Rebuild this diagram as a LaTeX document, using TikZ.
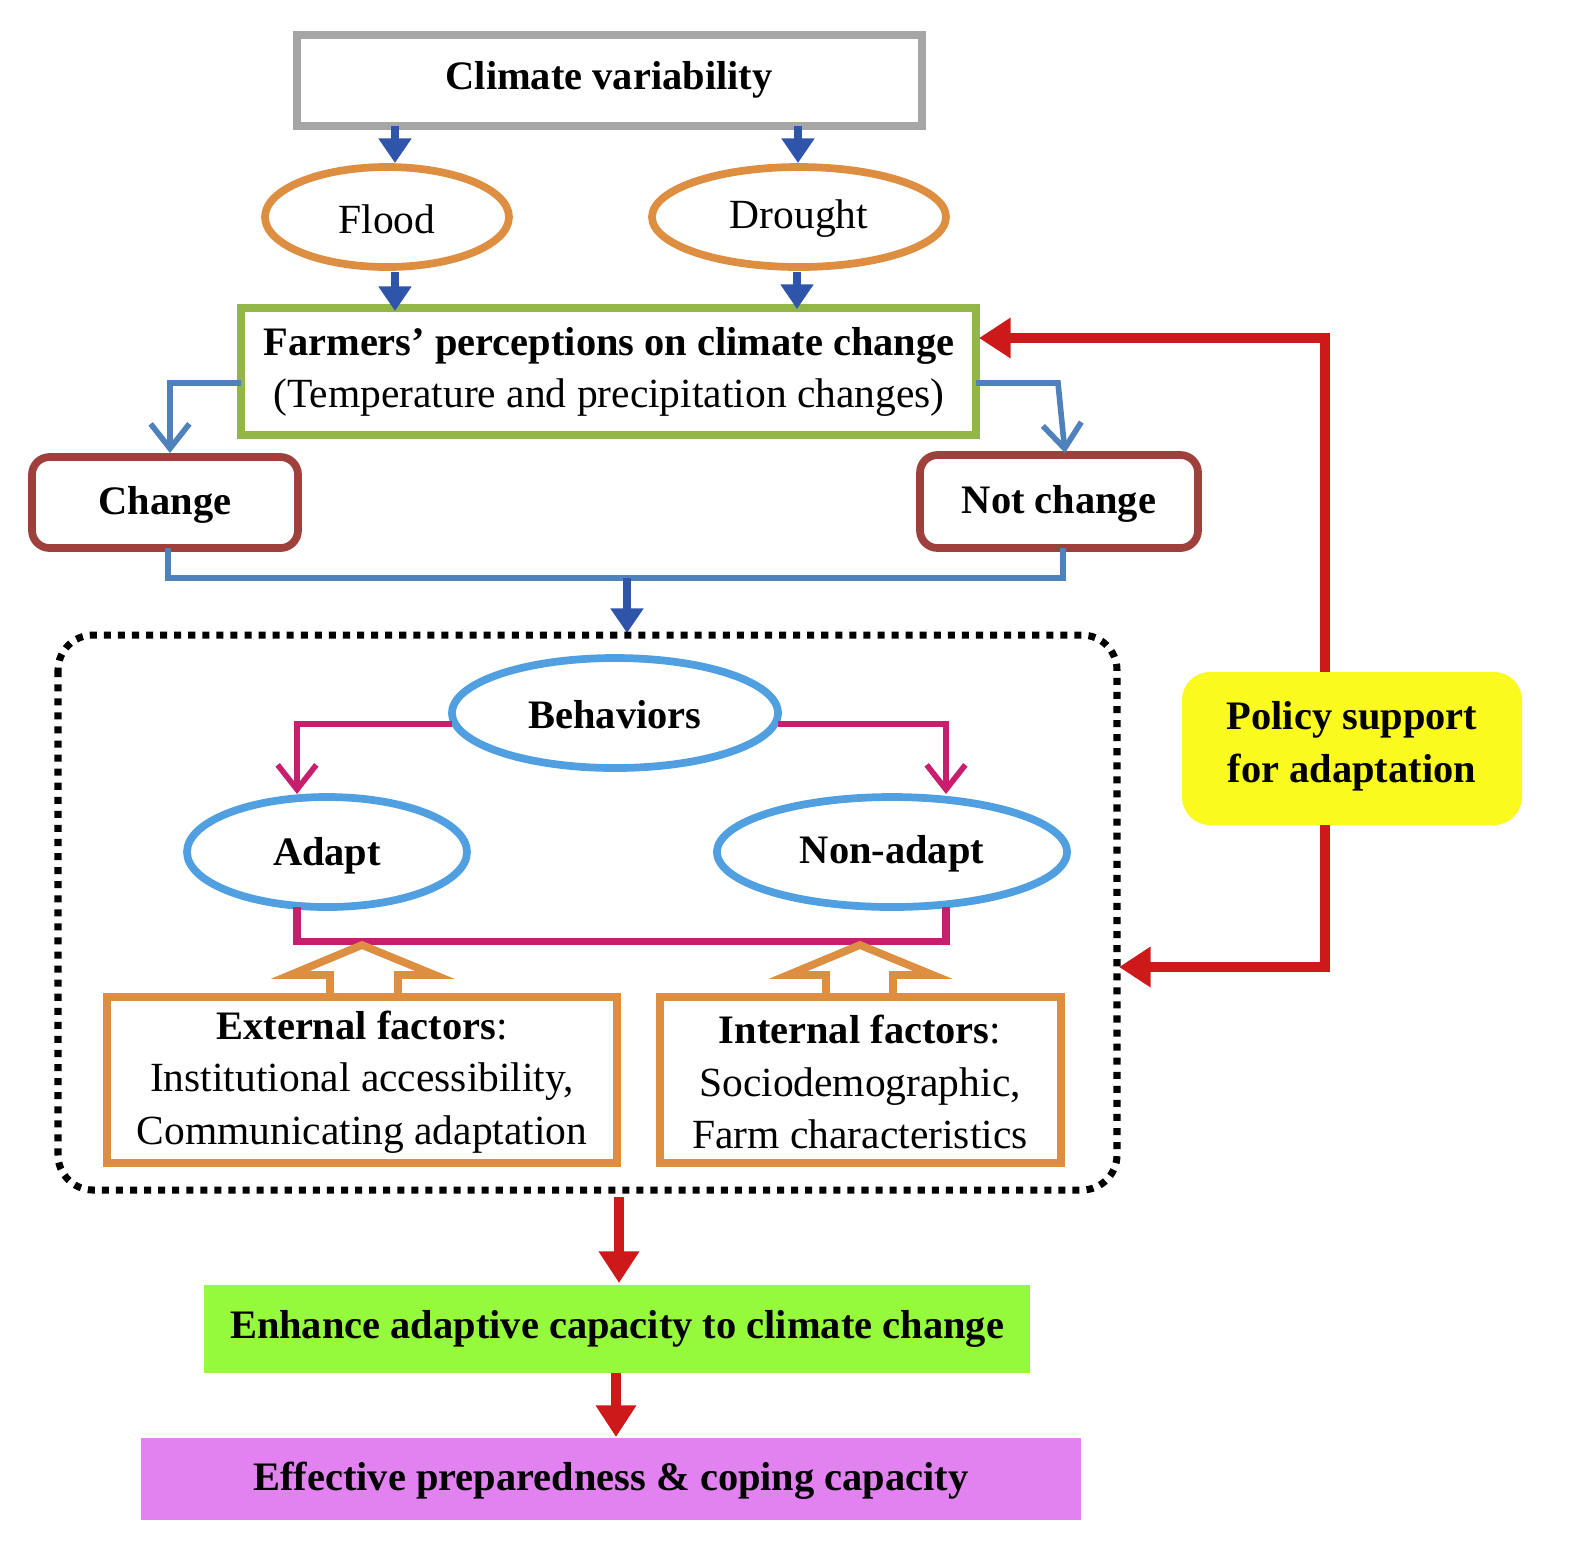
\documentclass[tikz,border=0pt]{standalone}
\usepackage{fontspec}
\setmainfont{Liberation Serif}
\usetikzlibrary{arrows.meta}
\definecolor{cblue}{RGB}{47,85,170}
\definecolor{cbord}{RGB}{79,129,189}
\definecolor{corange}{RGB}{222,142,64}
\definecolor{cgreen}{RGB}{146,182,72}
\definecolor{cbrown}{RGB}{160,64,60}
\definecolor{csky}{RGB}{80,160,225}
\definecolor{cmag}{RGB}{200,30,110}
\definecolor{cred}{RGB}{205,25,25}
\definecolor{clime}{RGB}{150,250,60}
\definecolor{cviolet}{RGB}{225,130,240}
\definecolor{cyel}{RGB}{250,250,30}
\begin{document}
\begin{tikzpicture}[x=0.01cm,y=-0.01cm,
  txt/.style={font=\fontsize{11.8}{13}\selectfont,align=center},
  btxt/.style={txt,font=\fontsize{11.5}{13}\selectfont\bfseries},
  barrow/.style={cblue,line width=2.2pt,-{Triangle[length=7pt,width=9pt]}},
  oarrow/.style={cbord,line width=1.6pt,-{Straight Barb[length=7pt,width=11pt]}},
  marrow/.style={cmag,line width=1.6pt,-{Straight Barb[length=7pt,width=11pt]}},
  rarrow/.style={cred,line width=2.6pt,-{Triangle[length=9pt,width=11pt]}}]
\useasboundingbox (0,0) rectangle (1578,1559);
% boxes
\draw[gray!70,line width=2.2pt] (297,35) rectangle (922,126);
\node[btxt] (cv) at (609,80) {Climate variability};
\coordinate (cvA) at (395,126); \coordinate (cvB) at (798,126);
\draw[corange,line width=2.2pt] (387,217) ellipse (122 and 50);
\draw[corange,line width=2.2pt] (799,217) ellipse (147 and 50);
\node[txt] (fl) at (387,219) {Flood};
\node[txt] (dr) at (799,219) {Drought};
\coordinate (flT) at (395,163); \coordinate (drT) at (798,163);
\draw[barrow] (cvA) -- (flT);
\draw[barrow] (cvB) -- (drT);
\draw[cgreen,line width=2.2pt] (241,308) rectangle (976,435);
\node[txt] (fp) at (609,372) {\textbf{\fontsize{11.5}{13}\selectfont Farmers’ perceptions on climate change}\\[2pt](Temperature and precipitation changes)};
\coordinate (flB) at (395,272); \coordinate (drB) at (797,272);
\draw[barrow] (flB) -- (395,311);
\draw[barrow] (drB) -- (797,309);
\draw[cbrown,line width=2.2pt,rounded corners=5pt] (32,457) rectangle (298,548);
\draw[cbrown,line width=2.2pt,rounded corners=5pt] (920,455) rectangle (1198,548);
\node[btxt] (ch) at (165,505) {Change};
\node[btxt] (nc) at (1059,504) {Not change};
\draw[oarrow] (241,383) -- (170,383) -- (170,453);
\draw[oarrow] (976,383) -- (1058,383) -- (1065,453);
\draw[cbord,line width=1.8pt] (168,548) -- (168,578) -- (1063,578) -- (1063,548);
\draw[barrow] (627,578) -- (627,633);
% dotted box
\draw[line width=2pt,dotted,rounded corners=10pt] (58,635) rectangle (1117,1190);
\draw[csky,line width=2.2pt] (615,713) ellipse (163 and 55);
\draw[csky,line width=2.2pt] (327,852) ellipse (140 and 55);
\draw[csky,line width=2.2pt] (892,852) ellipse (175 and 55);
\node[btxt] (be) at (615,715) {Behaviors};
\node[btxt] (ad) at (327,856) {Adapt};
\node[btxt] (na) at (892,854) {Non-adapt};
\draw[marrow] (452,724) -- (297,724) -- (297,794);
\draw[marrow] (778,724) -- (946,724) -- (946,794);
\draw[cmag,line width=2pt] (297,907) -- (297,941) -- (946,941) -- (946,907);
% hollow arrows
\draw[corange,line width=2.2pt,fill=white] (330,997) -- (330,975) -- (290,975) -- (362,945) -- (435,975) -- (398,975) -- (398,997);
\draw[corange,line width=2.2pt,fill=white] (826,997) -- (826,975) -- (788,975) -- (860,945) -- (933,975) -- (893,975) -- (893,997);
\draw[corange,line width=2.2pt] (107,997) rectangle (617,1163);
\draw[corange,line width=2.2pt] (660,997) rectangle (1061,1163);
\node[txt] (ex) at (362,1082) {\textbf{\fontsize{11.5}{13}\selectfont External factors}:\\[2pt]Institutional accessibility,\\[2pt]Communicating adaptation};
\node[txt] (in) at (860,1082) {\textbf{\fontsize{11.5}{13}\selectfont Internal factors}:\\[2pt]Sociodemographic,\\[2pt]Farm characteristics};
% bottom
\draw[rarrow] (619,1197) -- (619,1283);
\fill[clime] (204,1285) rectangle (1030,1373);
\node[btxt] (en) at (617,1329) {Enhance adaptive capacity to climate change};
\draw[rarrow] (616,1373) -- (616,1437);
\fill[cviolet] (141,1438) rectangle (1081,1520);
\node[btxt] (ef) at (611,1481) {Effective preparedness \& coping capacity};
% policy
\fill[cyel,rounded corners=8pt] (1182,672) rectangle (1522,825);
\node[btxt] (po) at (1352,746) {Policy support\\[2pt]for adaptation};
\draw[rarrow] (1325,672) -- (1325,338) -- (979,338);
\draw[rarrow] (1325,825) -- (1325,967) -- (1119,967);
\end{tikzpicture}
\end{document}
